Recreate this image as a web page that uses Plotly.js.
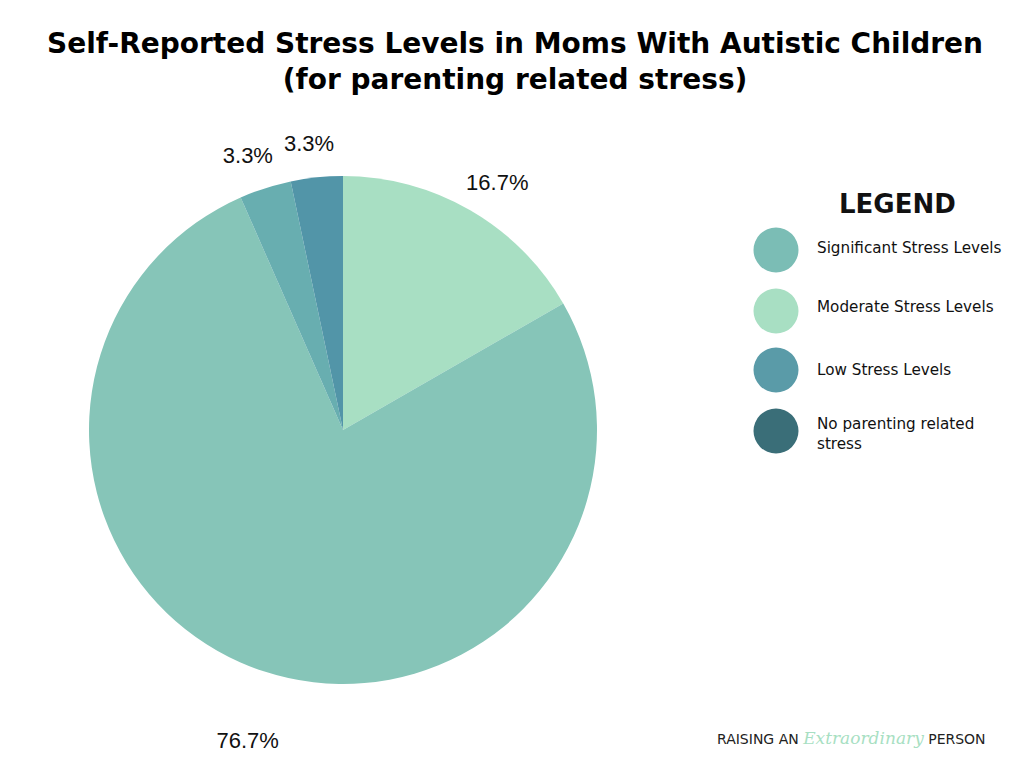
<!DOCTYPE html>
<html>
<head>
<meta charset="utf-8">
<script src="https://cdn.plot.ly/plotly-3.0.1.min.js"></script>
<style>html,body{margin:0;padding:0;background:#fff;}#chart{width:1024px;height:768px;}</style>
</head>
<body>
<div id="chart"></div>
<script>
const categories = ["Moderate Stress Levels", "Significant Stress Levels", "Low Stress Levels", "No parenting related stress"];
const percentages = [16.7, 76.7, 3.3, 3.3];
const sliceColors = ["#a8dfc3", "#86c5b8", "#68aeb0", "#5295a8"];
const legendLabels = ["Significant Stress Levels", "Moderate Stress Levels", "Low Stress Levels", "No parenting related<br>stress"];
const legendColors = ["#7bbdb5", "#a8dfc3", "#5a9ba8", "#3a6e78"];

const W = 1024, H = 768;
const CX = 343, CY = 430, R = 254;
const labelFont = {family: "Liberation Sans, Arial, sans-serif", size: 22, color: "#111"};

function domainFor(r) {
  return {x: [(CX - r) / W, (CX + r) / W], y: [(H - CY - r) / H, (H - CY + r) / H]};
}

const mainTrace = {
  type: "pie",
  labels: categories,
  values: percentages,
  sort: false,
  direction: "clockwise",
  rotation: 0,
  marker: {colors: sliceColors, line: {width: 0}},
  textinfo: "none",
  hoverinfo: "label+percent",
  showlegend: false,
  automargin: false,
  domain: domainFor(R)
};

// transparent label rings: each shows one percentage label outside the pie,
// with its own ring radius / angular nudge so the label sits where the original has it
function labelTrace(r, rot, idx) {
  return {
    type: "pie",
    labels: categories,
    values: percentages,
    sort: false,
    direction: "clockwise",
    rotation: rot,
    marker: {colors: categories.map(() => "rgba(0,0,0,0)"), line: {width: 0}},
    texttemplate: percentages.map((v, i) => i === idx ? "%{value:.1f}%" : ""),
    textposition: "outside",
    outsidetextfont: labelFont,
    textfont: labelFont,
    hoverinfo: "skip",
    showlegend: false,
    automargin: false,
    domain: domainFor(r)
  };
}

const traces = [
  mainTrace,
  labelTrace(265, -3.9, 0),
  labelTrace(304, -7.2, 1),
  labelTrace(270, 4.15, 2),
  labelTrace(274.5, 5.4, 3)
];

const shapes = [];
const annotations = [];
const legY = [250, 311, 370, 431];
const legTextY = [248, 307, 370, 434];
legendColors.forEach((c, i) => {
  const cy = legY[i];
  shapes.push({
    type: "circle", xref: "paper", yref: "paper",
    x0: (776 - 22.5) / W, x1: (776 + 22.5) / W,
    y0: (H - cy - 22.5) / H, y1: (H - cy + 22.5) / H,
    fillcolor: c, line: {width: 0}
  });
  annotations.push({
    xref: "paper", yref: "paper", x: 815 / W, y: (H - legTextY[i]) / H,
    xanchor: "left", yanchor: "middle", showarrow: false, align: "left",
    text: legendLabels[i],
    font: {family: "DejaVu Sans, sans-serif", size: 15.2, color: "#111"}
  });
});
annotations.push({
  xref: "paper", yref: "paper", x: 897 / W, y: (H - 204) / H,
  xanchor: "center", yanchor: "middle", showarrow: false,
  text: "<b>LEGEND</b>",
  font: {family: "DejaVu Sans, sans-serif", size: 26, color: "#111"}
});
annotations.push({
  xref: "paper", yref: "paper", x: 988 / W, y: (H - 738) / H,
  xanchor: "right", yanchor: "middle", showarrow: false,
  text: "RAISING AN <span style=\"color:#a8dfc3;font-family:'DejaVu Serif',serif;font-style:italic;font-size:17px\">Extraordinary</span> PERSON",
  font: {family: "DejaVu Sans, sans-serif", size: 14, color: "#222"}
});

const layout = {
  width: W, height: H,
  margin: {l: 0, r: 0, t: 0, b: 0},
  paper_bgcolor: "#fff",
  title: {
    text: "<b>Self-Reported Stress Levels in Moms With Autistic Children</b><br><b>(for parenting related stress)</b>",
    x: 0.503, xanchor: "center", y: 1 - 53 / H, yanchor: "middle",
    font: {family: "DejaVu Sans, sans-serif", size: 28, color: "#000"}
  },
  shapes: shapes,
  annotations: annotations
};

Plotly.newPlot("chart", traces, layout, {displayModeBar: false});
</script>
</body>
</html>
